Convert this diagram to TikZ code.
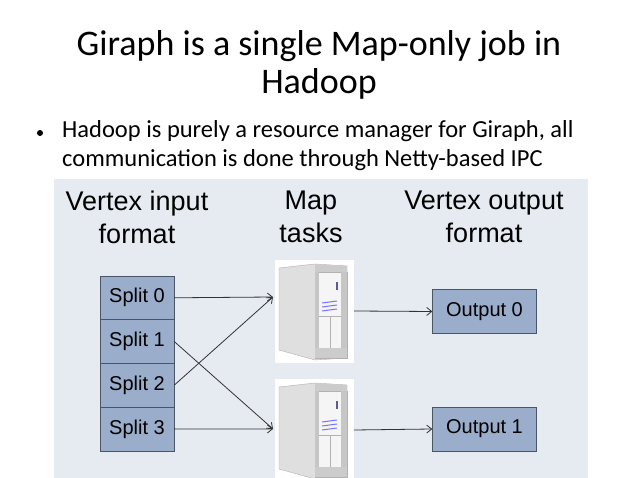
\documentclass[tikz,border=0pt]{standalone}
\usepackage{fontspec}
\setmainfont{Carlito}
\newfontfamily\arial{Liberation Sans}
\usetikzlibrary{arrows.meta}
\definecolor{panel}{HTML}{E6EAF1}
\definecolor{boxfill}{HTML}{9AADCB}
\definecolor{boxline}{HTML}{4A5566}
\tikzset{
  split/.style={draw=boxline,fill=boxfill,minimum width=74pt,minimum height=43.7pt,inner sep=0pt,font=\arial\fontsize{20}{20}\selectfont},
  hdr/.style={align=center,font=\arial\fontsize{27}{33}\selectfont},
  conn/.style={draw=black!80,line width=0.8pt,-{Straight Barb[length=5pt,width=8pt]}}
}
\newcommand{\srv}[4]{% name, x, y top, west arrow offset
  \fill[white] (#2,#3) rectangle ++(79,103);
  \fill[gray!25,draw=gray!60] (#2+4,#3+8) -- (#2+40,#3+4) -- (#2+72,#3+6) -- (#2+72,#3+98) -- (#2+40,#3+100) -- (#2+4,#3+90) -- cycle;
  \fill[gray!8,draw=gray!60] (#2+40,#3+12) rectangle (#2+72,#3+98);
  \fill[gray!40] (#2+40,#3+4) -- (#2+72,#3+6) -- (#2+72,#3+12) -- (#2+40,#3+12) -- cycle;
  \fill[gray!45] (#2+66,#3+12) rectangle (#2+72,#3+98);
  \fill[gray!45] (#2+40,#3+12) rectangle (#2+44,#3+98);
  \fill[gray!40] (#2+40,#3+88) rectangle (#2+72,#3+98);
  \draw[blue!55,line width=1pt] (#2+47,#3+43)--(#2+62,#3+41) (#2+47,#3+47)--(#2+62,#3+45) (#2+47,#3+51)--(#2+62,#3+49);
  \draw[gray!60] (#2+44,#3+56)--(#2+66,#3+56) (#2+55,#3+56)--(#2+55,#3+88);
  \fill[blue!30!gray] (#2+61,#3+22) rectangle (#2+63,#3+30);
  \coordinate (#1w) at (#2-2,#3+#4);
  \coordinate (#1e) at (#2+79,#3+51);
}
\begin{document}
\begin{tikzpicture}[x=1pt,y=-1pt]
\useasboundingbox (0,0) rectangle (638,478);
\fill[white] (0,0) rectangle (638,478);
\node[font=\fontsize{36}{38}\selectfont,align=center] (title) at (319,65) {Giraph is a single Map-only job in\\Hadoop};
\node[font=\fontsize{24.5}{29}\selectfont,align=left,anchor=north west,inner sep=0pt] (bul) at (62,120) {Hadoop is purely a resource manager for Giraph, all\\communication is done through Netty-based IPC};
\node[circle,fill=black,minimum size=6pt,inner sep=0pt] (dot) at (40,133) {};
\fill[panel] (54,179) rectangle (588,478);
\node[hdr] (h1) at (137,217) {Vertex input\\format};
\node[hdr] (h2) at (311,217) {Map\\tasks};
\node[hdr] (h3) at (484,217) {Vertex output\\format};
\node[split] (s0) at (137,297.8) {Split 0};
\node[split] (s1) at (137,341.5) {Split 1};
\node[split] (s2) at (137,385.2) {Split 2};
\node[split] (s3) at (137,428.9) {Split 3};
\node[split,minimum width=104pt] (o0) at (484.5,311.5) {Output 0};
\node[split,minimum width=104pt,minimum height=44pt] (o1) at (484.5,429) {Output 1};
\srv{ma}{275}{260}{37}
\srv{mb}{275}{379}{50}
\draw[conn] (s0.east) -- (maw);
\draw[conn] (s2.east) -- (maw);
\draw[conn] (s1.east) -- (mbw);
\draw[conn] (s3.east) -- (mbw);
\draw[conn] (mae) -- (o0.west);
\draw[conn] (mbe) -- (o1.west);
\end{tikzpicture}
\end{document}
